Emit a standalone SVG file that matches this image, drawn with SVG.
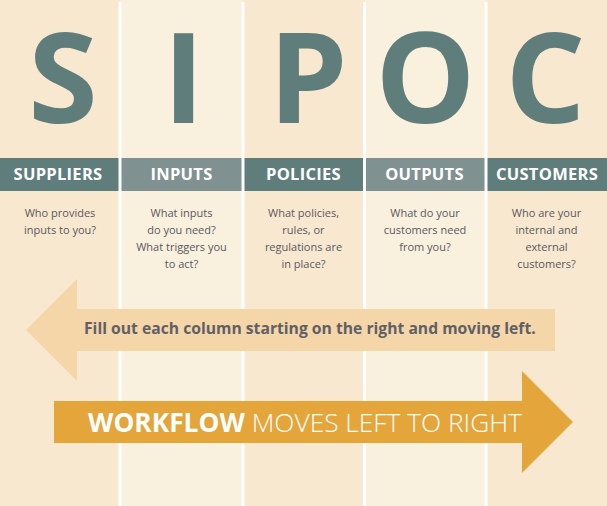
<svg xmlns="http://www.w3.org/2000/svg" width="607" height="506" viewBox="0 0 607 506">
<style>
.bgA{fill:#f8e8cf}
.bgB{fill:#faf0de}
.hdA{fill:#5f7e7b}
.hdB{fill:#7f9190}
.big{font-family:"Open Sans","Liberation Sans",sans-serif;font-weight:700;font-size:126px;fill:#5f7e7b;text-anchor:middle}
.hd{font-family:"Open Sans","Liberation Sans",sans-serif;font-weight:700;font-size:16.5px;fill:#ffffff;text-anchor:middle;letter-spacing:0.3px}
.q{font-family:"Open Sans","Liberation Sans",sans-serif;font-size:11px;fill:#58595f;text-anchor:middle}
.sep{stroke:#ffffff;stroke-width:3}
.fill{font-family:"Open Sans","Liberation Sans",sans-serif;font-weight:700;font-size:15.7px;fill:#5f6066}
.wf{font-family:"Open Sans","Liberation Sans",sans-serif;font-size:26.3px;fill:#ffffff}
</style>
<g id="col-suppliers">
<rect class="bgA" x="0" y="0" width="120" height="506"/>
<text class="big" x="63" y="123">S</text>
<rect class="hdA" x="0" y="158" width="120" height="33"/>
<text class="hd" x="58" y="180">SUPPLIERS</text>
<text class="q" x="60" y="216.5">Who provides</text>
<text class="q" x="60" y="233.5">inputs to you?</text>
</g>
<g id="col-inputs">
<rect class="bgB" x="120" y="0" width="123" height="506"/>
<text class="big" x="183.5" y="123">I</text>
<rect class="hdB" x="120" y="158" width="123" height="33"/>
<text class="hd" x="181.5" y="180">INPUTS</text>
<text class="q" x="181.5" y="216.5">What inputs</text>
<text class="q" x="181.5" y="233.5">do you need?</text>
<text class="q" x="181.5" y="250.5">What triggers you</text>
<text class="q" x="181.5" y="267.5">to act?</text>
</g>
<g id="col-policies">
<rect class="bgA" x="243" y="0" width="121.5" height="506"/>
<text class="big" x="308" y="123">P</text>
<rect class="hdA" x="243" y="158" width="121.5" height="33"/>
<text class="hd" x="303.5" y="180">POLICIES</text>
<text class="q" x="303.5" y="216.5">What policies,</text>
<text class="q" x="303.5" y="233.5">rules, or</text>
<text class="q" x="303.5" y="250.5">regulations are</text>
<text class="q" x="303.5" y="267.5">in place?</text>
</g>
<g id="col-outputs">
<rect class="bgB" x="364.5" y="0" width="121.5" height="506"/>
<text class="big" x="425.5" y="123">O</text>
<rect class="hdB" x="364.5" y="158" width="121.5" height="33"/>
<text class="hd" x="424.5" y="180">OUTPUTS</text>
<text class="q" x="425" y="216.5">What do your</text>
<text class="q" x="425" y="233.5">customers need</text>
<text class="q" x="425" y="250.5">from you?</text>
</g>
<g id="col-customers">
<rect class="bgA" x="486" y="0" width="121" height="506"/>
<text class="big" x="545.5" y="123">C</text>
<rect class="hdA" x="486" y="158" width="121" height="33"/>
<text class="hd" x="547" y="180">CUSTOMERS</text>
<text class="q" x="546.5" y="216.5">Who are your</text>
<text class="q" x="546.5" y="233.5">internal and</text>
<text class="q" x="546.5" y="250.5">external</text>
<text class="q" x="546.5" y="267.5">customers?</text>
</g>
<g id="separators">
<line class="sep" x1="120" y1="2" x2="120" y2="506"/>
<line class="sep" x1="243" y1="2" x2="243" y2="506"/>
<line class="sep" x1="364.5" y1="2" x2="364.5" y2="506"/>
<line class="sep" x1="486" y1="2" x2="486" y2="506"/>
</g>
<g id="connectors">
<g id="arrow-fill">
<polygon fill="#f5d6a8" points="26,330 77,279 77,309 555,309 555,351 77,351 77,381"/>
<text class="fill" x="84" y="334">Fill out each column starting on the right and moving left.</text>
</g>
<g id="arrow-workflow">
<polygon fill="#e4a53b" points="54,401 522,401 522,371 573,422 522,473 522,443 54,443"/>
<text class="wf" x="88" y="432"><tspan font-weight="700">WORKFLOW</tspan><tspan font-weight="300"> MOVES LEFT TO RIGHT</tspan></text>
</g>
</g>
</svg>
